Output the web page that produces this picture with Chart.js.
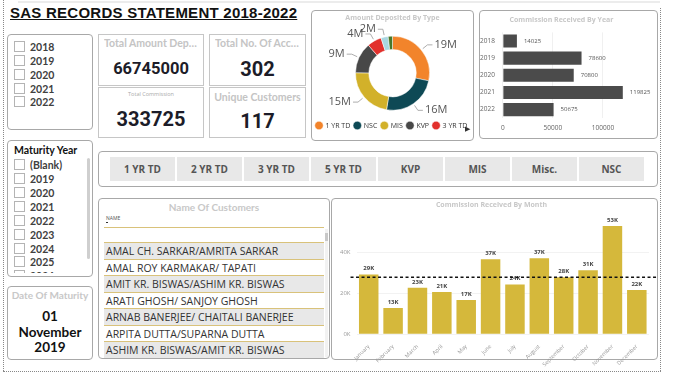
<!DOCTYPE html>
<html>
<head>
<meta charset="utf-8">
<script src="https://cdn.jsdelivr.net/npm/chart.js@4.4.0/dist/chart.umd.min.js"></script>
<style>
body{margin:0;width:680px;height:379px;overflow:hidden;background:#fff;font-family:"Open Sans",sans-serif;position:relative;color:#333}
.abs{position:absolute;box-sizing:border-box}
.box{border:1px solid #a8a8a8;border-radius:4px;background:#fff}
.card{border:1px solid #c6c6c6;background:#fff}
.ctitle{position:absolute;left:5px;right:3px;top:2px;font-family:Lato,sans-serif;font-weight:700;font-size:10.5px;color:#c4c4c4;white-space:nowrap;overflow:hidden;text-overflow:ellipsis}
.cval{position:absolute;left:0;right:0;text-align:center;font-family:Roboto,sans-serif;font-weight:700;color:#1c1c28}
.item{position:absolute;left:6px;height:14px;font-family:Lato,sans-serif;font-size:10.5px;font-weight:700;color:#404040;line-height:14px}
.item i{display:inline-block;width:9px;height:9px;border:1px solid #b4b4b4;vertical-align:-1px;margin-right:5px;background:#fff}
.btn{position:absolute;top:5px;height:24px;width:65px;background:#e8e8e8;text-align:center;line-height:24px;font-size:10px;font-weight:700;color:#555}
.row{position:absolute;left:5px;width:220px;height:16.5px;box-sizing:border-box;border-bottom:1px solid #d9c27a;font-size:10.5px;line-height:16px;padding-left:2px;color:#333;white-space:nowrap;overflow:hidden}
.row.g{background:#e8e8e8}
</style>
</head>
<body>
<!-- dashboard outline -->
<div class="abs" style="left:3px;top:0;width:0;height:371px;border-left:1px dotted #888"></div>
<div class="abs" style="left:660px;top:8px;width:0;height:363px;border-left:1px dotted #888"></div>
<div class="abs" style="left:3px;top:371px;width:658px;height:0;border-top:1px dotted #888"></div>
<div class="abs" style="left:18px;top:1px;width:642px;height:2px;background:#ececec"></div>

<div class="abs" style="left:10px;top:4px;font-family:'Liberation Sans',Arial,sans-serif;font-weight:700;font-size:15px;letter-spacing:0.25px;color:#111;text-decoration:underline;white-space:nowrap">SAS RECORDS STATEMENT 2018-2022</div>

<!-- year slicer -->
<div class="abs box" style="left:7px;top:34px;width:86px;height:96px">
  <div class="item" style="top:5px"><i></i>2018</div>
  <div class="item" style="top:19px"><i></i>2019</div>
  <div class="item" style="top:33px"><i></i>2020</div>
  <div class="item" style="top:47px"><i></i>2021</div>
  <div class="item" style="top:60px"><i></i>2022</div>
</div>

<!-- cards -->
<div class="abs card" style="left:98px;top:34px;width:106px;height:52px">
  <div class="ctitle">Total Amount Deposited</div>
  <div class="cval" style="top:24px;font-size:16.5px">66745000</div>
</div>
<div class="abs card" style="left:209px;top:34px;width:97px;height:52px">
  <div class="ctitle">Total No. Of Accounts</div>
  <div class="cval" style="top:22px;font-size:20px">302</div>
</div>
<div class="abs card" style="left:98px;top:87px;width:106px;height:51px">
  <div style="position:absolute;left:0;right:0;top:2px;text-align:center;font-size:5.5px;color:#aaa">Total Commission</div>
  <div class="cval" style="top:19px;font-size:20px">333725</div>
</div>
<div class="abs card" style="left:209px;top:87px;width:97px;height:51px">
  <div class="ctitle" style="text-align:center;left:0;right:0;top:3px">Unique Customers</div>
  <div class="cval" style="top:21px;font-size:20px">117</div>
</div>

<!-- donut -->
<div class="abs box" style="left:311px;top:10px;width:163px;height:131px">
  <div style="position:absolute;left:0;top:0;width:161px;height:129px"><canvas id="typeChart"></canvas></div>
  <div style="position:absolute;left:153px;top:113px;font-size:7px;color:#333">&#9654;</div>
</div>

<!-- commission by year -->
<div class="abs box" style="left:479px;top:10px;width:179px;height:129px">
  <div style="position:absolute;left:0;top:0;width:177px;height:127px"><canvas id="yearChart"></canvas></div>
</div>

<!-- maturity year slicer -->
<div class="abs box" style="left:7px;top:140px;width:86px;height:137px;overflow:hidden">
  <div style="position:absolute;left:6px;top:3px;font-family:Lato,sans-serif;font-size:10.5px;font-weight:700;color:#111">Maturity Year</div>
  <div style="position:absolute;left:0;top:0;width:84px;height:132px;overflow:hidden">
    <div class="item" style="top:17px"><i></i>(Blank)</div>
    <div class="item" style="top:31px"><i></i>2019</div>
    <div class="item" style="top:45px"><i></i>2020</div>
    <div class="item" style="top:59px"><i></i>2021</div>
    <div class="item" style="top:73px"><i></i>2022</div>
    <div class="item" style="top:87px"><i></i>2023</div>
    <div class="item" style="top:101px"><i></i>2024</div>
    <div class="item" style="top:114px"><i></i>2025</div>
    <div class="item" style="top:128px"><i></i>2026</div>
  </div>
  <div style="position:absolute;left:79px;top:17px;width:3px;height:101px;background:#cfcfcf;border-radius:2px"></div>
</div>

<!-- date of maturity -->
<div class="abs box" style="left:7px;top:286px;width:86px;height:74px;text-align:center">
  <div style="position:absolute;left:0;right:0;top:2px;font-family:Lato,sans-serif;font-size:10px;font-weight:700;color:#c8c8c8;white-space:nowrap">Date Of Maturity</div>
  <div style="position:absolute;left:0;right:0;top:22px;font-family:Lato,sans-serif;font-size:13.5px;font-weight:700;color:#111;line-height:15.5px">01<br>November<br>2019</div>
</div>

<!-- type buttons -->
<div class="abs box" style="left:98px;top:151px;width:560px;height:36px">
  <div class="btn" style="left:11px">1 YR TD</div>
  <div class="btn" style="left:78px">2 YR TD</div>
  <div class="btn" style="left:145px">3 YR TD</div>
  <div class="btn" style="left:212px">5 YR TD</div>
  <div class="btn" style="left:279px">KVP</div>
  <div class="btn" style="left:346px">MIS</div>
  <div class="btn" style="left:413px">Misc.</div>
  <div class="btn" style="left:480px">NSC</div>
</div>

<!-- customers table -->
<div class="abs box" style="left:98px;top:198px;width:232px;height:161px;overflow:hidden">
  <div style="position:absolute;left:0;right:0;top:2px;text-align:center;font-family:Lato,sans-serif;font-size:10px;font-weight:700;color:#c8c8c8">Name Of Customers</div>
  <div style="position:absolute;left:7px;top:16px;font-size:5px;color:#555">NAME</div>
  <div style="position:absolute;left:7px;top:23px;width:2px;height:1px;background:#333"></div>
  <div style="position:absolute;left:5px;top:28px;width:220px;height:1px;background:#d9c27a"></div>
  <div class="row" style="top:28px;height:16px"></div>
  <div id="rows"></div>
  <div style="position:absolute;left:226px;top:30px;width:3px;height:128px;background:#f2f2f2"></div>
  <div style="position:absolute;left:226px;top:34px;width:3px;height:8px;background:#c8c8c8"></div>
</div>

<!-- commission by month -->
<div class="abs box" style="left:331px;top:198px;width:327px;height:162px"></div>
<div class="abs" style="left:332px;top:199px;width:325px;height:170px"><canvas id="monthChart"></canvas></div>

<script>
// amount deposited by type
const typeLabels = ['1 YR TD', 'NSC', 'MIS', 'KVP', '3 YR TD', '5 YR TD', '2 YR TD'];
const typeAmounts = [18900000, 16200000, 15100000, 9000000, 4200000, 2100000, 1245000];
const typeColors = ['#f2842b', '#0e4955', '#d2b12a', '#484848', '#e2302c', '#a8d6e0', '#46782a'];

// commission by year
const years = ['2018', '2019', '2020', '2021', '2022'];
const yearCommission = [14025, 78600, 70800, 119825, 50675];
const yearTicks = [0, 50000, 100000];

// commission by month
const months = ['January', 'February', 'March', 'April', 'May', 'June', 'July',
  'August', 'September', 'October', 'November', 'December'];
const monthCommission = [29200, 12900, 22700, 20600, 16800, 36700, 24300, 37100, 27900, 31300, 52900, 21600];
const monthTicks = [0, 20000, 40000];

const customers = [
  'AMAL CH. SARKAR/AMRITA SARKAR',
  'AMAL ROY KARMAKAR/ TAPATI',
  'AMIT KR. BISWAS/ASHIM KR. BISWAS',
  'ARATI GHOSH/ SANJOY GHOSH',
  'ARNAB BANERJEE/ CHAITALI BANERJEE',
  'ARPITA DUTTA/SUPARNA DUTTA',
  'ASHIM KR. BISWAS/AMIT KR. BISWAS'
];

let rowsHtml = ''
customers.forEach((name, idx) => {
  let top = 44 + idx * 16.5
  rowsHtml += '<div class="row' + (idx % 2 == 0 ? ' g' : '') + '" style="top:' + top + 'px">' + name + '</div>'
})
document.getElementById('rows').innerHTML = rowsHtml

Chart.defaults.font.family = '"Open Sans", sans-serif'
Chart.defaults.animation = false

// labels with leader lines outside the donut
const donutCallouts = {
  id: 'donutCallouts',
  afterDatasetsDraw(chart) {
    let ctx = chart.ctx
    let meta = chart.getDatasetMeta(0)
    let data = chart.data.datasets[0].data
    ctx.save()
    ctx.font = '11px "Open Sans"'
    ctx.fillStyle = '#555'
    ctx.strokeStyle = '#999'
    ctx.lineWidth = 0.8
    meta.data.forEach((arc, i) => {
      if (data[i] < 1500000) return
      let p = arc.getProps(['x', 'y', 'startAngle', 'endAngle', 'outerRadius'], true)
      let a = (p.startAngle + p.endAngle) / 2
      let cos = Math.cos(a), sin = Math.sin(a)
      let x1 = p.x + cos * (p.outerRadius + 2), y1 = p.y + sin * (p.outerRadius + 2)
      let x2 = p.x + cos * (p.outerRadius + 8), y2 = p.y + sin * (p.outerRadius + 8)
      let right = cos >= 0
      let x3 = x2 + (right ? 5 : -5)
      ctx.beginPath()
      ctx.moveTo(x1, y1)
      ctx.lineTo(x2, y2)
      ctx.lineTo(x3, y2)
      ctx.stroke()
      ctx.textAlign = right ? 'left' : 'right'
      ctx.textBaseline = 'middle'
      ctx.fillText(Math.round(data[i] / 1000000) + 'M', x3 + (right ? 2 : -2), y2)
    })
    ctx.restore()
  }
}

// value labels next to / above bars
const barValueLabels = {
  id: 'barValueLabels',
  afterDatasetsDraw(chart, args, opts) {
    let ctx = chart.ctx
    let meta = chart.getDatasetMeta(0)
    let data = chart.data.datasets[0].data
    ctx.save()
    ctx.font = opts.font
    ctx.fillStyle = opts.color
    meta.data.forEach((bar, i) => {
      let txt = opts.format(data[i])
      if (chart.options.indexAxis == 'y') {
        ctx.textAlign = 'left'
        ctx.textBaseline = 'middle'
        ctx.fillText(txt, bar.x + 7, bar.y)
      } else {
        ctx.textAlign = 'center'
        ctx.textBaseline = 'bottom'
        ctx.fillText(txt, bar.x, bar.y - 3)
      }
    })
    ctx.restore()
  }
}

// dashed average line
const avgLine = {
  id: 'avgLine',
  afterDatasetsDraw(chart, args, opts) {
    let data = chart.data.datasets[0].data
    let avg = data.reduce((s, v) => s + v, 0) / data.length
    let y = chart.scales.y.getPixelForValue(avg)
    let ctx = chart.ctx
    ctx.save()
    ctx.strokeStyle = '#111'
    ctx.lineWidth = 1.6
    ctx.setLineDash([3, 2.5])
    ctx.beginPath()
    ctx.moveTo(chart.chartArea.left - 6, y)
    ctx.lineTo(chart.chartArea.right + 8, y)
    ctx.stroke()
    ctx.restore()
  }
}

new Chart(document.getElementById('typeChart'), {
  type: 'doughnut',
  data: {
    labels: typeLabels,
    datasets: [{
      data: typeAmounts,
      backgroundColor: typeColors,
      borderColor: '#fff',
      borderWidth: 0.5,
      radius: 37
    }]
  },
  options: {
    responsive: true,
    maintainAspectRatio: false,
    cutout: '64%',
    layout: { padding: { top: 0, bottom: 1, left: 0, right: 0 } },
    plugins: {
      title: {
        display: true,
        text: 'Amount Deposited By Type',
        color: '#c8c8c8',
        font: { size: 7, weight: 'bold' },
        padding: { top: 3, bottom: 6 }
      },
      legend: {
        position: 'bottom',
        align: 'start',
        labels: {
          usePointStyle: true,
          pointStyle: 'circle',
          boxWidth: 6,
          boxHeight: 6,
          padding: 4,
          color: '#333',
          font: { size: 7 },
          filter: (item) => item.index < 5
        }
      },
      tooltip: { enabled: false }
    }
  },
  plugins: [donutCallouts]
})

new Chart(document.getElementById('yearChart'), {
  type: 'bar',
  data: {
    labels: years,
    datasets: [{
      data: yearCommission,
      backgroundColor: '#4b4b4b',
      barPercentage: 0.76,
      categoryPercentage: 1
    }]
  },
  options: {
    indexAxis: 'y',
    responsive: true,
    maintainAspectRatio: false,
    layout: { padding: { top: 2, right: 14, left: 0, bottom: 0 } },
    scales: {
      x: {
        min: 0,
        max: 140000,
        afterBuildTicks: (scale) => { scale.ticks = yearTicks.map((v) => ({ value: v })) },
        ticks: { color: '#666', font: { size: 6.5 }, padding: 6, callback: (v) => String(v) },
        grid: { color: '#f0f0f0', drawTicks: false },
        border: { display: false }
      },
      y: {
        ticks: { color: '#666', font: { size: 6.5 }, padding: 0 },
        grid: { display: false },
        border: { display: false }
      }
    },
    plugins: {
      title: {
        display: true,
        text: 'Commission Received By Year',
        color: '#c8c8c8',
        font: { size: 7 },
        padding: { top: 3, bottom: 8 }
      },
      legend: { display: false },
      tooltip: { enabled: false },
      barValueLabels: { font: '6px "Open Sans"', color: '#555', format: (v) => String(v) }
    }
  },
  plugins: [barValueLabels]
})

new Chart(document.getElementById('monthChart'), {
  type: 'bar',
  data: {
    labels: months,
    datasets: [{
      data: monthCommission,
      backgroundColor: '#d5b83b',
      barPercentage: 0.8,
      categoryPercentage: 1
    }]
  },
  options: {
    responsive: true,
    maintainAspectRatio: false,
    layout: { padding: { top: 0, right: 8, left: 2, bottom: 0 } },
    scales: {
      x: {
        ticks: { color: '#999', font: { size: 5.5 }, maxRotation: 45, minRotation: 45, autoSkip: false, padding: 1 },
        grid: { display: false },
        border: { display: false }
      },
      y: {
        min: 0,
        max: 60000,
        afterBuildTicks: (scale) => { scale.ticks = monthTicks.map((v) => ({ value: v })) },
        ticks: { color: '#999', font: { size: 6 }, padding: 6, callback: (v) => (v / 1000) + 'K' },
        grid: { color: '#f2f2f2', drawTicks: false },
        border: { display: false }
      }
    },
    plugins: {
      title: {
        display: true,
        text: 'Commission Received By Month',
        color: '#c8c8c8',
        font: { size: 7 },
        padding: { top: 2, bottom: 2 }
      },
      legend: { display: false },
      tooltip: { enabled: false },
      barValueLabels: { font: 'bold 6px "Open Sans"', color: '#444', format: (v) => Math.round(v / 1000) + 'K' }
    }
  },
  plugins: [barValueLabels, avgLine]
})
</script>
</body>
</html>
